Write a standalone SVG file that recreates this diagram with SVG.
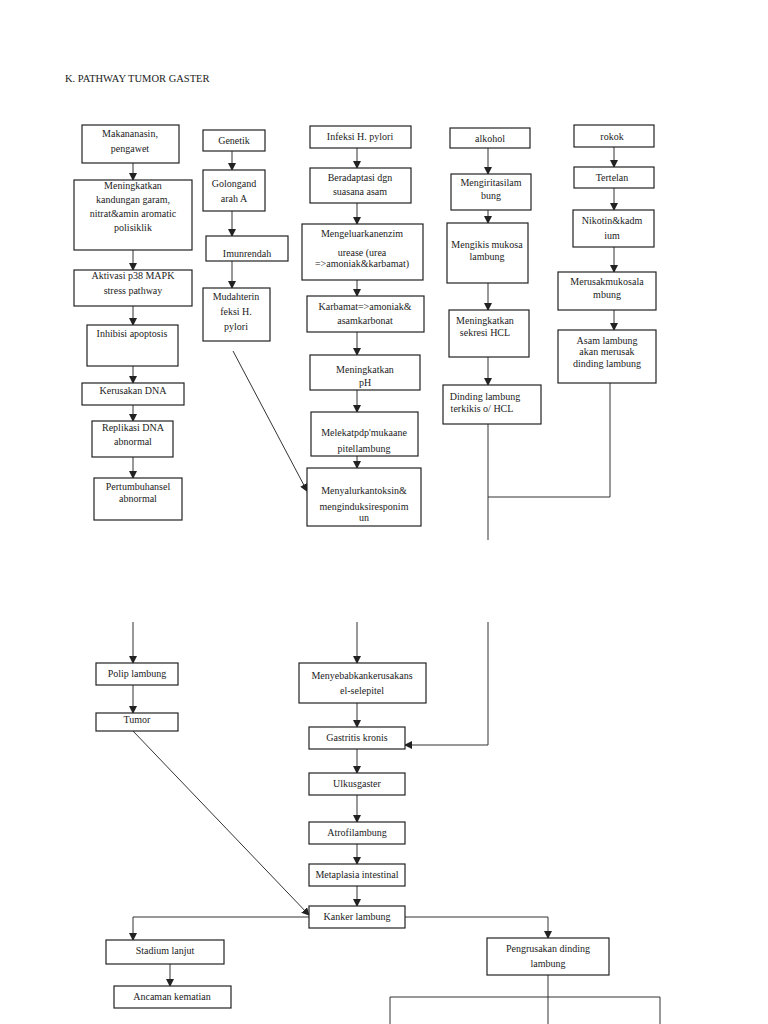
<svg xmlns="http://www.w3.org/2000/svg" width="768" height="1024" viewBox="0 0 768 1024">
<defs>
<marker id="ah" markerWidth="8" markerHeight="8" refX="7" refY="4" orient="auto" markerUnits="userSpaceOnUse"><path d="M0,0 L8,4 L0,8 z" fill="#222"/></marker>
<style>
rect{fill:#fff;stroke:#222;stroke-width:1.2}
text{font-family:"Liberation Serif",serif;font-size:10px;fill:#222;text-anchor:middle}
.c line,.c polyline{stroke:#333;stroke-width:1;fill:none}
.a{marker-end:url(#ah)}
</style>
</defs>
<rect x="0" y="0" width="768" height="1024" style="fill:#fff;stroke:none"/>
<text x="65" y="82" style="text-anchor:start;font-size:10.5px">K. PATHWAY TUMOR GASTER</text>
<g class="c">
<line class="a" x1="133" y1="163" x2="133" y2="180"/>
<line class="a" x1="133" y1="250" x2="133" y2="270"/>
<line class="a" x1="133" y1="306" x2="133" y2="325"/>
<line class="a" x1="133" y1="366" x2="133" y2="383"/>
<line class="a" x1="133" y1="405" x2="133" y2="421"/>
<line class="a" x1="133" y1="457" x2="133" y2="478"/>
<line class="a" x1="232" y1="151" x2="232" y2="170"/>
<line class="a" x1="232" y1="211" x2="232" y2="236"/>
<line class="a" x1="232" y1="261" x2="232" y2="288"/>
<line class="a" x1="233" y1="351" x2="307" y2="491"/>
<line class="a" x1="357" y1="148" x2="357" y2="168"/>
<line class="a" x1="357" y1="203" x2="357" y2="224"/>
<line class="a" x1="357" y1="280" x2="357" y2="296"/>
<line class="a" x1="357" y1="332" x2="357" y2="355"/>
<line class="a" x1="357" y1="390" x2="357" y2="412"/>
<line class="a" x1="357" y1="456" x2="357" y2="468"/>
<line class="a" x1="488" y1="148" x2="488" y2="174"/>
<line class="a" x1="488" y1="210" x2="488" y2="223"/>
<line class="a" x1="488" y1="283" x2="488" y2="310"/>
<line class="a" x1="488" y1="357" x2="488" y2="385"/>
<line class="a" x1="614" y1="147" x2="614" y2="167"/>
<line class="a" x1="614" y1="188" x2="614" y2="210"/>
<line class="a" x1="614" y1="247" x2="614" y2="272"/>
<line class="a" x1="614" y1="310" x2="614" y2="330"/>
<line x1="488" y1="424" x2="488" y2="540"/>
<polyline points="488,497 610,497 610,383"/>
<line class="a" x1="133" y1="622" x2="133" y2="663"/>
<line class="a" x1="133" y1="685" x2="133" y2="713"/>
<line class="a" x1="133" y1="731" x2="309" y2="915"/>
<line class="a" x1="357" y1="622" x2="357" y2="663"/>
<polyline class="a" points="488,622 488,745 405,745"/>
<line class="a" x1="357" y1="703" x2="357" y2="727"/>
<line class="a" x1="357" y1="749" x2="357" y2="773"/>
<line class="a" x1="357" y1="795" x2="357" y2="822"/>
<line class="a" x1="357" y1="844" x2="357" y2="864"/>
<line class="a" x1="357" y1="886" x2="357" y2="906"/>
<polyline class="a" points="309,917 133,917 133,940"/>
<polyline class="a" points="405,917 548,917 548,938"/>
<line class="a" x1="170" y1="964" x2="170" y2="986"/>
<line x1="548" y1="975" x2="548" y2="1024"/>
<polyline points="390,1024 390,997 660,997 660,1024"/>
</g>
<g id="n1"><rect x="82" y="125" width="97" height="38"/><text x="130" y="137">Makananasin,</text><text x="130" y="152">pengawet</text></g>
<g id="n2"><rect x="74" y="180" width="118" height="70"/><text x="133" y="189">Meningkatkan</text><text x="133" y="203">kandungan garam,</text><text x="133" y="217">nitrat&amp;amin aromatic</text><text x="133" y="231">polisiklik</text></g>
<g id="n3"><rect x="74" y="270" width="118" height="36"/><text x="133" y="279">Aktivasi p38 MAPK</text><text x="133" y="294">stress pathway</text></g>
<g id="n4"><rect x="87" y="325" width="91" height="41"/><text x="132" y="337">Inhibisi apoptosis</text></g>
<g id="n5"><rect x="82" y="383" width="102" height="22"/><text x="133" y="394">Kerusakan DNA</text></g>
<g id="n6"><rect x="92" y="421" width="81" height="36"/><text x="133" y="431">Replikasi DNA</text><text x="133" y="445">abnormal</text></g>
<g id="n7"><rect x="94" y="478" width="88" height="42"/><text x="138" y="490">Pertumbuhansel</text><text x="138" y="502">abnormal</text></g>
<g id="n8"><rect x="203" y="130" width="62" height="21"/><text x="234" y="144">Genetik</text></g>
<g id="n9"><rect x="203" y="170" width="62" height="41"/><text x="234" y="187">Golongand</text><text x="234" y="202">arah A</text></g>
<g id="n10"><rect x="206" y="236" width="82" height="25"/><text x="247" y="257">Imunrendah</text></g>
<g id="n11"><rect x="203" y="288" width="67" height="53"/><text x="236" y="300">Mudahterin</text><text x="236" y="315">feksi H.</text><text x="236" y="330">pylori</text></g>
<g id="n12"><rect x="310" y="126" width="101" height="22"/><text x="360" y="140">Infeksi H. pylori</text></g>
<g id="n13"><rect x="310" y="168" width="101" height="35"/><text x="360" y="181">Beradaptasi dgn</text><text x="360" y="195">suasana asam</text></g>
<g id="n14"><rect x="302" y="224" width="121" height="56"/><text x="362" y="237">Mengeluarkanenzim</text><text x="362" y="256">urease (urea</text><text x="362" y="267">=&gt;amoniak&amp;karbamat)</text></g>
<g id="n15"><rect x="307" y="296" width="117" height="36"/><text x="365" y="310">Karbamat=&gt;amoniak&amp;</text><text x="365" y="324">asamkarbonat</text></g>
<g id="n16"><rect x="310" y="355" width="110" height="35"/><text x="365" y="373">Meningkatkan</text><text x="365" y="386">pH</text></g>
<g id="n17"><rect x="311" y="412" width="107" height="44"/><text x="364" y="436">Melekatpdp'mukaane</text><text x="364" y="452">pitellambung</text></g>
<g id="n18"><rect x="307" y="468" width="114" height="58"/><text x="364" y="494">Menyalurkantoksin&amp;</text><text x="364" y="510">menginduksiresponim</text><text x="364" y="521">un</text></g>
<g id="n19"><rect x="450" y="128" width="80" height="20"/><text x="490" y="142">alkohol</text></g>
<g id="n20"><rect x="451" y="174" width="80" height="36"/><text x="491" y="186">Mengiritasilam</text><text x="491" y="199">bung</text></g>
<g id="n21"><rect x="447" y="223" width="81" height="60"/><text x="487" y="248">Mengikis mukosa</text><text x="487" y="260">lambung</text></g>
<g id="n22"><rect x="449" y="310" width="80" height="47"/><text x="485" y="324">Meningkatkan</text><text x="485" y="336">sekresi HCL</text></g>
<g id="n23"><rect x="443" y="385" width="98" height="39"/><text x="485" y="400">Dinding lambung</text><text x="482" y="412">terkikis o/ HCL</text></g>
<g id="n24"><rect x="574" y="125" width="80" height="22"/><text x="612" y="140">rokok</text></g>
<g id="n25"><rect x="574" y="167" width="80" height="21"/><text x="612" y="181">Tertelan</text></g>
<g id="n26"><rect x="573" y="210" width="81" height="37"/><text x="612" y="224">Nikotin&amp;kadm</text><text x="612" y="239">ium</text></g>
<g id="n27"><rect x="558" y="272" width="98" height="38"/><text x="607" y="285">Merusakmukosala</text><text x="607" y="298">mbung</text></g>
<g id="n28"><rect x="558" y="330" width="98" height="53"/><text x="607" y="344">Asam lambung</text><text x="607" y="355">akan merusak</text><text x="607" y="367">dinding lambung</text></g>
<g id="n29"><rect x="96" y="663" width="82" height="22"/><text x="137" y="677">Polip lambung</text></g>
<g id="n30"><rect x="96" y="713" width="82" height="18"/><text x="137" y="723">Tumor</text></g>
<g id="n31"><rect x="299" y="663" width="127" height="40"/><text x="362" y="679">Menyebabkankerusakans</text><text x="362" y="694">el-selepitel</text></g>
<g id="n32"><rect x="309" y="727" width="96" height="22"/><text x="357" y="741">Gastritis kronis</text></g>
<g id="n33"><rect x="309" y="773" width="96" height="22"/><text x="357" y="787">Ulkusgaster</text></g>
<g id="n34"><rect x="309" y="822" width="96" height="22"/><text x="357" y="836">Atrofilambung</text></g>
<g id="n35"><rect x="309" y="864" width="96" height="22"/><text x="357" y="878">Metaplasia intestinal</text></g>
<g id="n36"><rect x="309" y="906" width="96" height="22"/><text x="357" y="920">Kanker lambung</text></g>
<g id="n37"><rect x="106" y="940" width="118" height="24"/><text x="165" y="954">Stadium lanjut</text></g>
<g id="n38"><rect x="114" y="986" width="117" height="22"/><text x="172" y="1000">Ancaman kematian</text></g>
<g id="n39"><rect x="487" y="938" width="122" height="37"/><text x="548" y="952">Pengrusakan dinding</text><text x="548" y="967">lambung</text></g>
</svg>
